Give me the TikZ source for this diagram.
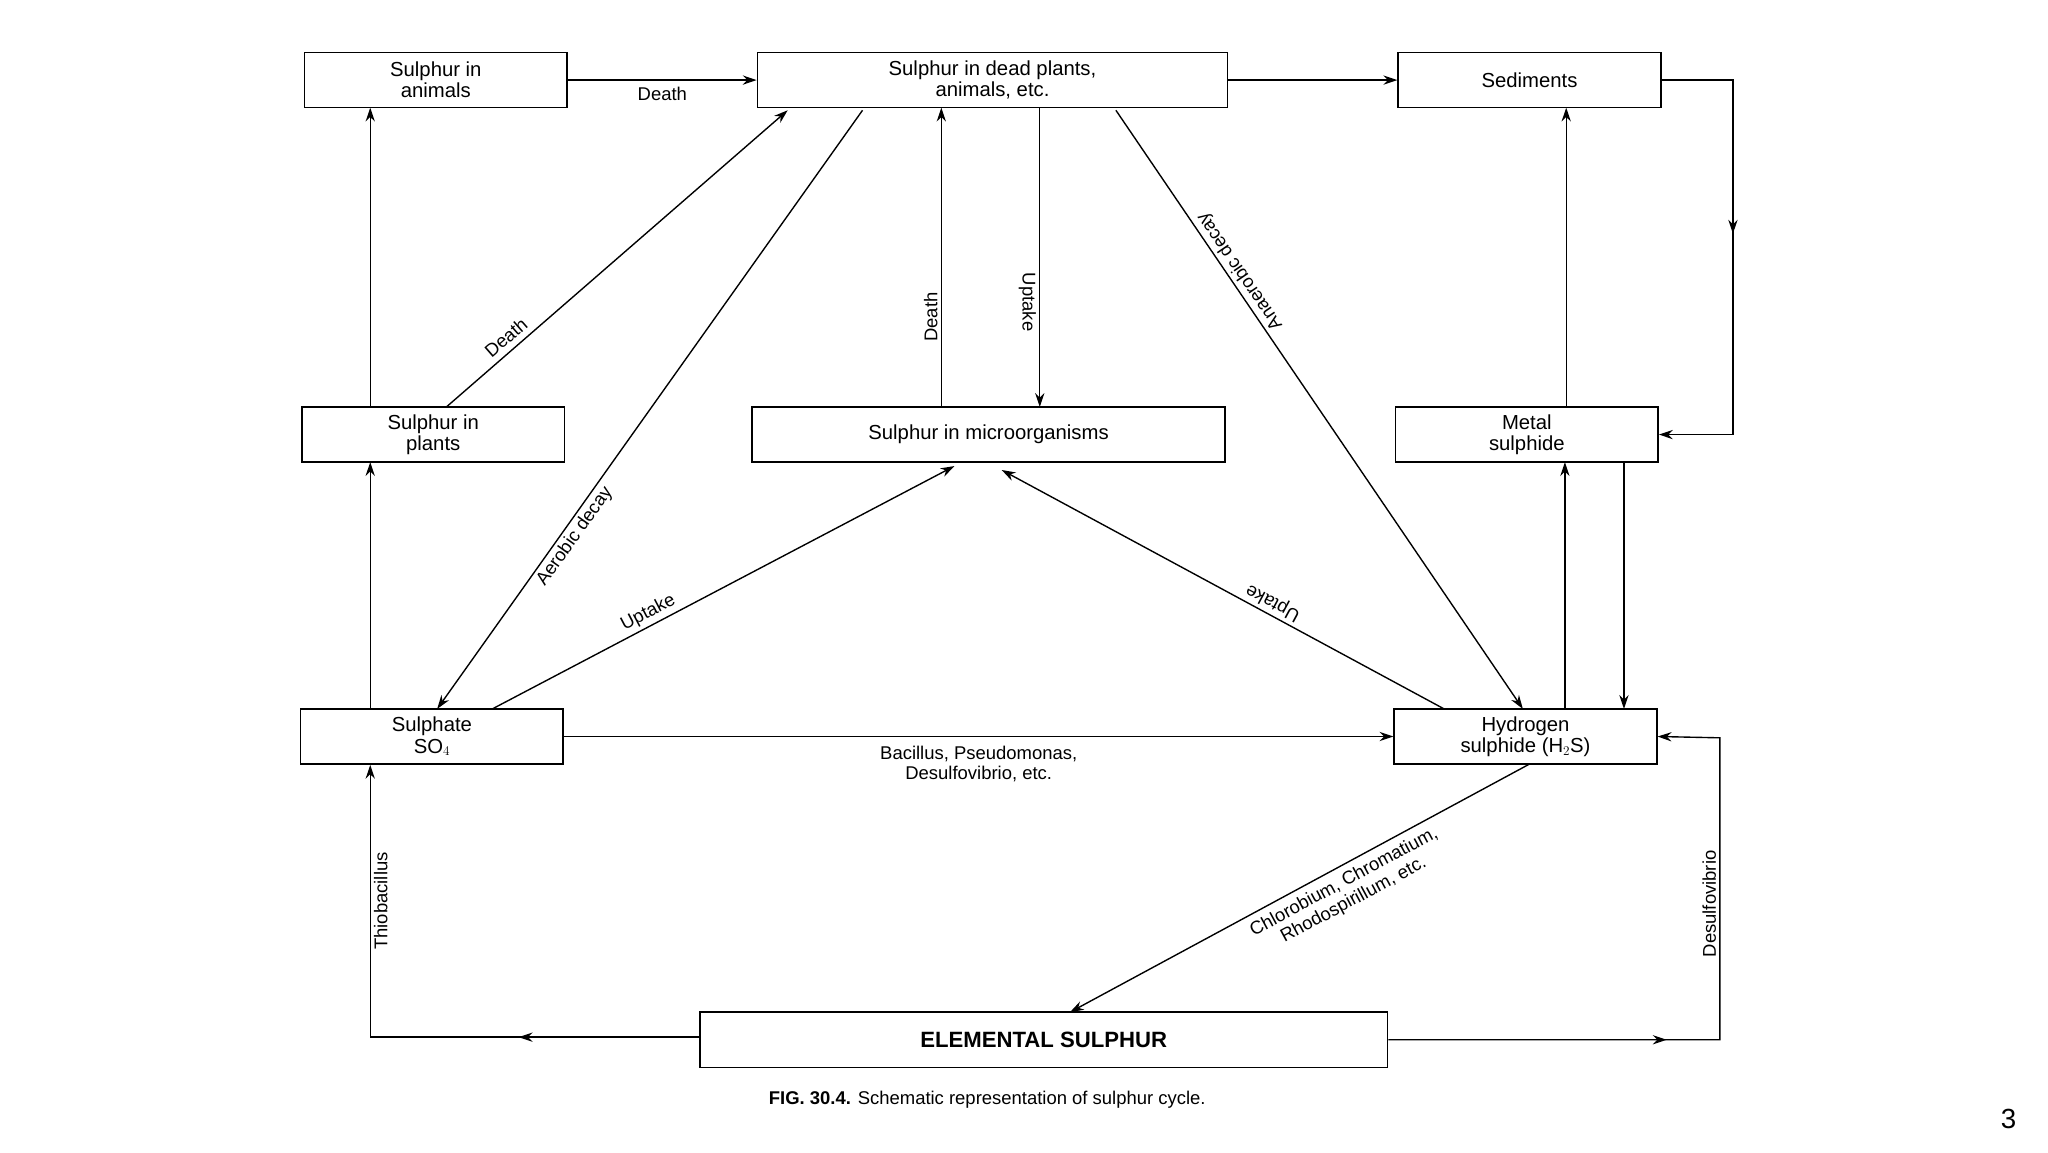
\documentclass[tikz,border=0pt]{standalone}
\usepackage{fontspec}
\setmainfont{Liberation Sans}
\usetikzlibrary{arrows.meta,decorations.markings}
\begin{document}
\begin{tikzpicture}[x=0.05cm,y=-0.05cm,
 box/.style={draw,line width=1.8pt,minimum height=2.1cm,align=center,font=\fontsize{22}{23}\selectfont,inner sep=0pt},
 ar/.style={line width=1.5pt,-{Stealth[length=15pt,width=10pt]}},
 lab/.style={font=\fontsize{20}{22}\selectfont,align=center},
 mid/.style={postaction={decorate},decoration={markings,mark=at position #1 with {\arrow{Stealth[length=15pt,width=10pt]}}}}]
\useasboundingbox (0,0) rectangle (1560,877.5);
\node[box,minimum width=10cm] (ani) at (332,61) {Sulphur in\\animals};
\node[box,minimum width=17.9cm] (dead) at (756,61) {Sulphur in dead plants,\\animals, etc.};
\node[box,minimum width=10cm] (sed) at (1165,61) {Sediments};
\node[box,minimum width=10cm] (pla) at (330,331) {Sulphur in\\plants};
\node[box,minimum width=18cm] (mic) at (753,331) {Sulphur in microorganisms};
\node[box,minimum width=10cm] (met) at (1163,331) {Metal\\sulphide};
\node[box,minimum width=10cm] (sul) at (329,561) {Sulphate\\SO$_4$};
\node[box,minimum width=10cm] (hs) at (1162,561) {Hydrogen\\sulphide (H$_2$S)};
\node[box,minimum width=26.2cm,font=\fontsize{24}{26}\selectfont\bfseries] (el) at (795,792) {ELEMENTAL SULPHUR};
\node[font=\fontsize{20}{22}\selectfont] (cap) at (752,838) {\textbf{FIG. 30.4.} Schematic representation of sulphur cycle.};
\node[font=\fontsize{30}{30}\selectfont\rmfamily] (pg) at (1530,852) {3};

\draw[ar] (ani.east) -- (dead.west) node[lab,midway,below=4pt] {Death};
\draw[ar] (dead.east) -- (sed.west);
\coordinate (c1) at (1320,61); \coordinate (c2) at (1320,331);
\draw[ar,mid=0.45] (sed.east) -- (c1) -- (c2) -- (met.east);
\draw[ar] (282,310) -- (282,82);
\draw[ar] (340,310) -- (600,84) node[lab,pos=0.2,above=3pt,sloped] {Death};
\draw[ar] (657,84) -- (333,540) node[lab,pos=0.7,below,sloped] {Aerobic decay};
\draw[ar] (717,310) -- (717,82) node[lab,pos=0.3,above,sloped] {Death};
\draw[ar] (792,82) -- (792,310) node[lab,pos=0.65,below,sloped] {Uptake};
\draw[ar] (850,84) -- (1160,540) node[lab,pos=0.28,below,sloped,rotate=180] {Anaerobic decay};
\draw[ar] (1193,310) -- (1193,82);
\draw[ar] (1192,540) -- (1192,352);
\draw[ar] (1237,352) -- (1237,540);
\draw[ar] (282,540) -- (282,352);
\draw[ar] (375,540) -- (727,355) node[lab,pos=0.35,above,sloped] {Uptake};
\draw[ar] (1100,540) -- (763,358) node[lab,pos=0.4,below,sloped,rotate=180] {Uptake};
\draw[ar] (sul.east) -- (hs.west) node[lab,midway,below=6pt] {Bacillus, Pseudomonas,\\Desulfovibrio, etc.};
\draw[ar] (1165,582) -- (815,771) node[lab,pos=0.42,below=4pt,sloped] {Chlorobium, Chromatium,\\Rhodospirillum, etc.};
\coordinate (c3) at (282,790);
\draw[ar,mid=0.3] (el.west |- 0,790) -- (c3) -- (sul.south -| c3) node[lab,pos=0.5,below,sloped] {Thiobacillus};
\coordinate (c4) at (1310,792); \coordinate (c5) at (1310,562);
\draw[ar,mid=0.4] (el.east) -- (c4) -- (c5) node[lab,pos=0.45,above,sloped] {Desulfovibrio} -- (hs.east);
\end{tikzpicture}
\end{document}
